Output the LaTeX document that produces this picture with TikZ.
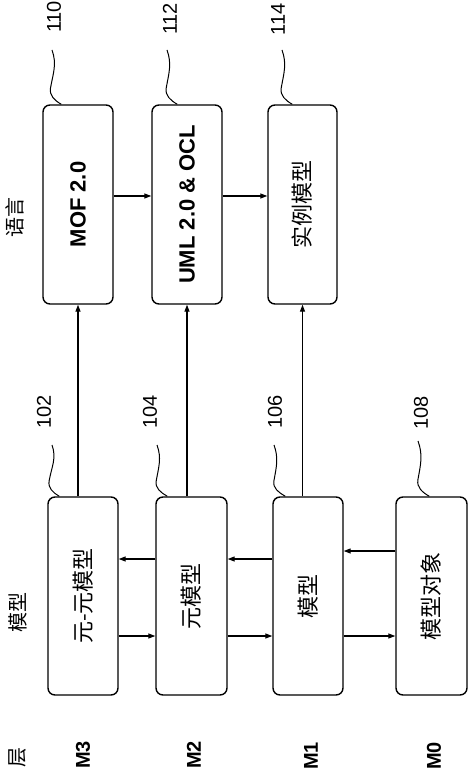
\documentclass[tikz,border=0pt]{standalone}
\usepackage{fontspec}
\usepackage{graphicx}
\setmainfont{Liberation Sans}
\newfontfamily\cjk{Noto Sans CJK SC}
\usetikzlibrary{arrows.meta,calc}
\newcommand\rottxt[1]{\rotatebox{90}{#1}}
\newcommand\leadline[2]{\draw[leader] (#1) to[out=-70,in=80] ($(#1)!0.7!(#2)+(-8,0)$) to[out=-100,in=150] (#2);}
\tikzset{
  box/.style={draw, line width=1.4pt, rounded corners=7pt, minimum height=199pt, inner sep=0pt, font=\fontsize{22}{22}\selectfont},
  arr/.style={line width=1.2pt, -{Triangle[length=7pt,width=5pt]}},
  leader/.style={line width=1pt},
  num/.style={inner sep=0pt, font=\fontsize{20}{20}\selectfont},
  head/.style={inner sep=0pt, font=\fontsize{20}{20}\selectfont\cjk},
  layer/.style={inner sep=0pt, font=\fontsize{20}{20}\selectfont\bfseries}
}
\begin{document}
\begin{tikzpicture}[x=1pt,y=1pt]
\useasboundingbox (0,0) rectangle (474,-775);
% language boxes
\node[box, minimum width=70pt] (L110) at (78,-204.5) {\rottxt{\bfseries MOF 2.0}};
\node[box, minimum width=70pt] (L112) at (187,-204.5) {\rottxt{\bfseries UML 2.0 \& OCL}};
\node[box, minimum width=69pt] (L114) at (302.5,-204.5) {\rottxt{\cjk 实例模型}};
% model boxes
\node[box, minimum width=70pt, minimum height=198pt] (M102) at (83,-596) {\rottxt{\cjk 元-元模型}};
\node[box, minimum width=71pt, minimum height=198pt] (M104) at (191.5,-596) {\rottxt{\cjk 元模型}};
\node[box, minimum width=70pt, minimum height=198pt] (M106) at (308,-596) {\rottxt{\cjk 模型}};
\node[box, minimum width=71pt, minimum height=198pt] (M108) at (431.5,-596) {\rottxt{\cjk 模型对象}};
% headings
\node[head] (hlang) at (15,-218) {\rottxt{语言}};
\node[head] (hmodel) at (18,-612) {\rottxt{模型}};
\node[head] (hlayer) at (17,-757) {\rottxt{层}};
\node[layer] (m3) at (83,-755) {\rottxt{M3}};
\node[layer] (m2) at (194,-755) {\rottxt{M2}};
\node[layer] (m1) at (311,-756) {\rottxt{M1}};
\node[layer] (m0) at (434,-756) {\rottxt{M0}};
% reference numbers
\node[num] (n110) at (54,-17) {\rottxt{110}};
\node[num] (n112) at (170,-19) {\rottxt{112}};
\node[num] (n114) at (278,-19.5) {\rottxt{114}};
\node[num] (n102) at (44,-412) {\rottxt{102}};
\node[num] (n104) at (150,-412) {\rottxt{104}};
\node[num] (n106) at (275,-412) {\rottxt{106}};
\node[num] (n108) at (421,-413) {\rottxt{108}};
% leader coordinates
\coordinate (s110) at (52,-50);
\coordinate (s112) at (167,-50);
\coordinate (s114) at (282,-50);
\coordinate (s102) at (52,-445);
\coordinate (s104) at (157,-445);
\coordinate (s106) at (274,-445);
\coordinate (s108) at (418,-441);
\coordinate (e110) at ([xshift=19pt]L110.north west);
\coordinate (e112) at ([xshift=26pt]L112.north west);
\coordinate (e114) at ([xshift=25pt]L114.north west);
\coordinate (e102) at ([xshift=12pt]M102.north west);
\coordinate (e104) at ([xshift=12pt]M104.north west);
\coordinate (e106) at ([xshift=13pt]M106.north west);
\coordinate (e108) at ([xshift=34pt]M108.north west);
\leadline{s110}{e110}
\leadline{s112}{e112}
\leadline{s114}{e114}
\leadline{s102}{e102}
\leadline{s104}{e104}
\leadline{s106}{e106}
\leadline{s108}{e108}
% vertical arrows
\draw[arr] (M102.north -| L110.south) -- (L110.south);
\draw[arr] (M104.north -| L112.south) -- (L112.south);
\draw[arr] (M106.north -| L114.south) -- (L114.south);
% language arrows
\draw[arr] ([yshift=8.5pt]L110.east) -- ([yshift=8.5pt]L112.west);
\draw[arr] ([yshift=8.5pt]L112.east) -- ([yshift=8.5pt]L114.west);
% model arrows
\draw[arr] ([yshift=37pt]M104.west) -- ([yshift=37pt]M102.east);
\draw[arr] ([yshift=37pt]M106.west) -- ([yshift=37pt]M104.east);
\draw[arr] ([yshift=45pt]M108.west) -- ([yshift=45pt]M106.east);
\draw[arr] ([yshift=-40pt]M102.east) -- ([yshift=-40pt]M104.west);
\draw[arr] ([yshift=-40pt]M104.east) -- ([yshift=-40pt]M106.west);
\draw[arr] ([yshift=-40pt]M106.east) -- ([yshift=-40pt]M108.west);
\end{tikzpicture}
\end{document}
